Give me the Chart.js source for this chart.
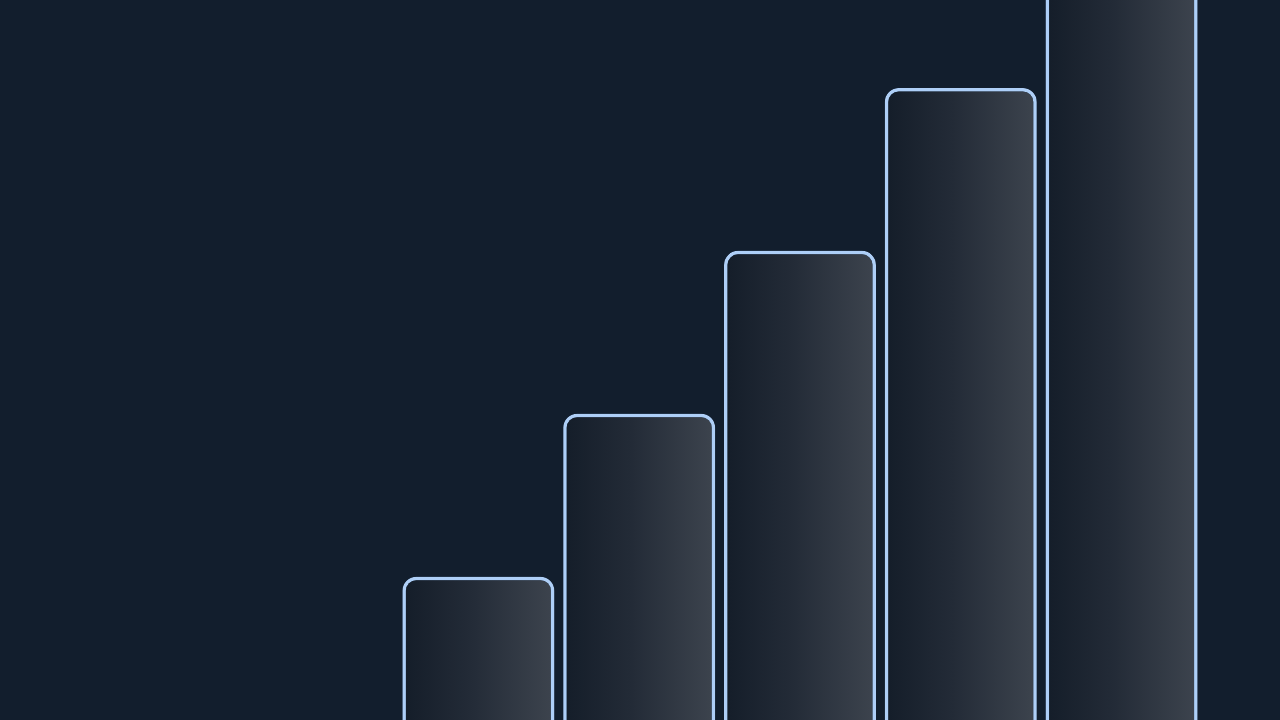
<!DOCTYPE html>
<html>
<head>
<meta charset="utf-8">
<script src="https://cdn.jsdelivr.net/npm/chart.js@4.4.1/dist/chart.umd.min.js"></script>
<style>
  html, body { margin: 0; padding: 0; background: #121e2d; }
  #wrap { width: 1280px; height: 720px; }
</style>
</head>
<body>
<div id="wrap"><canvas id="bars"></canvas></div>
<script>
// data
var labels = ['1', '2', '3', '4', '5'];
var values = [1, 2, 3, 4, 5];
var yRange = [0.12, 4.54];

// horizontal gradient per bar, dark left -> grey right
function barFill(context) {
  var chart = context.chart;
  if (!chart.chartArea || !chart.scales.x) return '#262d38';
  var x = chart.scales.x.getPixelForValue(context.dataIndex);
  var half = 76;
  var g = chart.ctx.createLinearGradient(x - half, 0, x + half, 0);
  g.addColorStop(0, '#141d29');
  g.addColorStop(0.45, '#232b37');
  g.addColorStop(1, '#3d444e');
  return g;
}

// soft glow round the outlines
var glow = {
  id: 'glow',
  beforeDatasetsDraw: function(chart) {
    chart.ctx.save();
    chart.ctx.shadowColor = 'rgba(150,200,255,0.45)';
    chart.ctx.shadowBlur = 10;
  },
  afterDatasetsDraw: function(chart) {
    chart.ctx.restore();
  }
};

new Chart(document.getElementById('bars'), {
  type: 'bar',
  data: {
    labels: labels,
    datasets: [{
      data: values,
      backgroundColor: barFill,
      borderColor: '#b2d0f6',
      borderWidth: 3.5,
      borderRadius: { topLeft: 14, topRight: 14 },
      borderSkipped: 'bottom',
      barPercentage: 0.945,
      categoryPercentage: 1
    }]
  },
  options: {
    responsive: true,
    maintainAspectRatio: false,
    animation: false,
    layout: { padding: { left: 398, right: 78, top: 0, bottom: 0 } },
    plugins: { legend: { display: false }, tooltip: { enabled: false } },
    scales: {
      x: { display: false },
      y: { display: false, min: yRange[0], max: yRange[1] }
    }
  },
  plugins: [glow]
});
</script>
</body>
</html>
